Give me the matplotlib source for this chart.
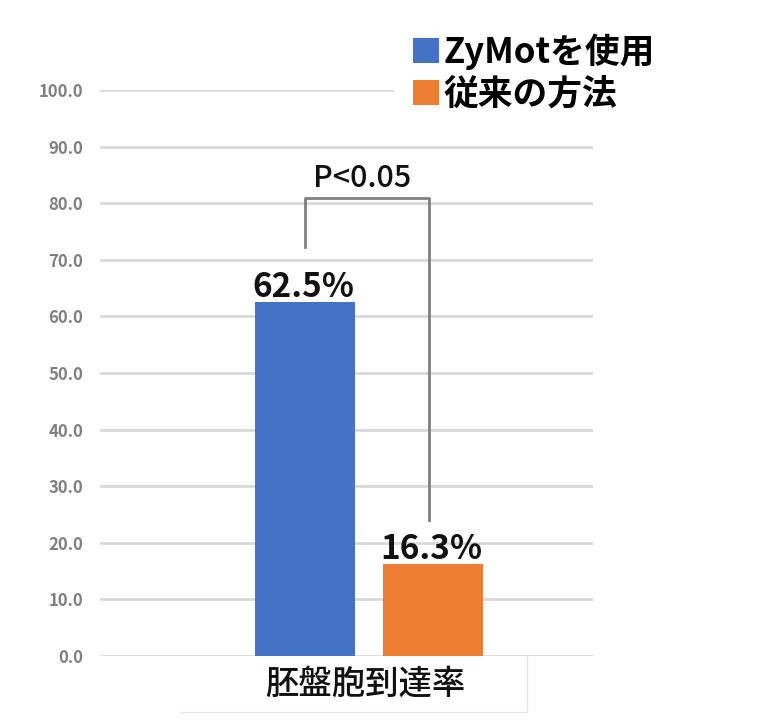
import matplotlib
matplotlib.use("Agg")
import matplotlib.pyplot as plt
from matplotlib.patches import Patch

plt.rcParams['font.family'] = ['Noto Sans CJK JP', 'DejaVu Sans']

category = '胚盤胞到達率'
series_names = ['ZyMotを使用', '従来の方法']
values = [62.5, 16.3]
colors = ['#4472c4', '#ed7d31']
yticks = [0, 10, 20, 30, 40, 50, 60, 70, 80, 90, 100]
p_label = 'P<0.05'

fig = plt.figure(figsize=(7.68, 7.26), dpi=100)
ax = fig.add_axes([100 / 768, 70 / 726, 493 / 768, 566 / 726])

bar_w = 0.2
offsets = [-0.128, 0.128]
ax.set_xlim(-0.538, 0.448)
ax.set_ylim(0, 100)

# grid lines (top one is cut short by the legend)
for t in yticks:
    xmax = 0.592 if t == 100 else 1.0
    ax.axhline(t, xmin=0, xmax=xmax, color='#d9d9d9', lw=2, zorder=0)

for off, v, c in zip(offsets, values, colors):
    ax.bar(off, v, width=bar_w, color=c, zorder=2)
    ax.text(off - 0.004, v + 0.9, f'{v}%', ha='center', va='baseline',
            fontsize=24, fontweight='bold', color='#111111')

# significance bracket
top = 80.9
ax.plot([offsets[0], offsets[0], offsets[1] - 0.008, offsets[1] - 0.008],
        [values[0] + 9.8, top, top, values[1] + 7.7],
        color='#808080', lw=2, zorder=3)
ax.text((offsets[0] + offsets[1]) / 2 - 0.014, top + 2.0, p_label,
        ha='center', va='baseline', fontsize=22, fontweight='medium',
        color='#111111')

# category label box below the axis
box_l, box_r, box_b = -0.378, 0.316, -9.9
ax.plot([box_l, box_r, box_r], [box_b, box_b, 0], color='#e6e6e6', lw=1,
        clip_on=False)
ax.text(-0.008, box_b / 2, category, ha='center', va='center',
        fontsize=24, fontweight='medium', color='#111111', clip_on=False)

ax.set_xticks([])
ax.set_yticks(yticks)
ax.set_yticklabels([f'{t:.1f}' for t in yticks], fontsize=12,
                   fontweight='bold', color='#808080')
ax.tick_params(axis='y', length=0, pad=12)
for s in ax.spines.values():
    s.set_visible(False)

handles = [Patch(facecolor=c, edgecolor='none') for c in colors]
fig.legend(handles, series_names, loc='upper left',
           bbox_to_anchor=(413 / 768, 1 - 33 / 726), frameon=False,
           prop={'size': 25, 'weight': 'bold'}, handlelength=0.75,
           handleheight=0.72, handletextpad=0.12, labelspacing=0.2,
           borderpad=0, borderaxespad=0)

fig.savefig('out.png', dpi=100)
